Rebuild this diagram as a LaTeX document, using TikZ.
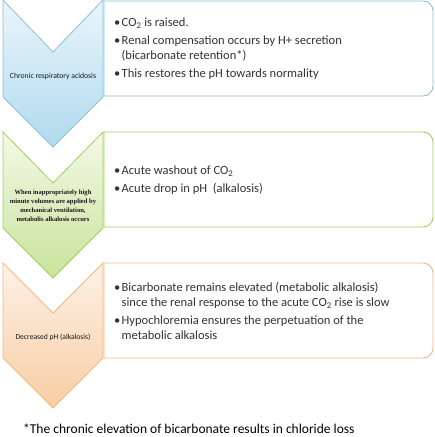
\documentclass[tikz,border=0pt]{standalone}
\usepackage{fontspec}
\setmainfont{Carlito}
\newfontfamily\cambria{Liberation Serif}
\usepackage{xcolor}
\usetikzlibrary{shapes,arrows,positioning,calc}

\definecolor{blueline}{HTML}{8CC0D8}
\definecolor{bluetop}{HTML}{EAF5FB}
\definecolor{bluebot}{HTML}{B0DAEE}
\definecolor{greenline}{HTML}{9FCF62}
\definecolor{greentop}{HTML}{F3F9E8}
\definecolor{greenbot}{HTML}{C9E39A}
\definecolor{orangeline}{HTML}{F5B883}
\definecolor{orangetop}{HTML}{FDF1E6}
\definecolor{orangebot}{HTML}{F8CDA3}

\newcommand{\bl}{\makebox[7.5pt][l]{\textbullet}}
\newcommand{\ind}{\makebox[7.5pt]{}}

\tikzset{
    boxline/.style={line width=0.9pt, fill=white, rounded corners=10pt},
    chevtext/.style={align=center, text=black!90, inner sep=0pt},
    bullets/.style={align=left, anchor=west, inner sep=0pt, font=\fontsize{12.5}{15.5}\selectfont, text=black!80}
}

\begin{document}
\begin{tikzpicture}[x=1pt,y=1pt]
    \useasboundingbox (0,0) rectangle (435,-437);

    % Boxes
    \draw[boxline, draw=blueline] (104,-1) -- (433,-1) -- (433,-96) [sharp corners] -- (104,-96) -- cycle;
    \draw[boxline, draw=greenline] (104,-132) -- (433,-132) -- (433,-227) [sharp corners] -- (104,-227) -- cycle;
    \draw[boxline, draw=orangeline] (104,-263) -- (433,-263) -- (433,-358) [sharp corners] -- (104,-358) -- cycle;

    % Chevrons
    \draw[draw=blueline, line width=0.8pt, top color=bluetop, bottom color=bluebot]
        (3,0) -- (53,-52) -- (103,0) -- (103,-97) -- (53,-147) -- (3,-97) -- cycle;
    \draw[draw=greenline, line width=0.8pt, top color=greentop, bottom color=greenbot]
        (3,-132) -- (53,-183) -- (103,-132) -- (103,-228) -- (53,-278) -- (3,-228) -- cycle;
    \draw[draw=orangeline, line width=0.8pt, top color=orangetop, bottom color=orangebot]
        (3,-263) -- (53,-313) -- (103,-263) -- (103,-358) -- (53,-408) -- (3,-358) -- cycle;

    % Chevron labels
    \node[chevtext, font=\fontsize{7.7}{9}\selectfont] (acidosis) at (53,-76) {Chronic respiratory acidosis};
    \node[chevtext, font=\cambria\bfseries\fontsize{6.6}{9}\selectfont] (ventilation) at (53,-206)
        {When inappropriately high\\minute volumes are applied by\\mechanical ventilation,\\metabolis alkalosis occurs};
    \node[chevtext, font=\fontsize{7.6}{9}\selectfont] (decreased) at (53,-337) {Decreased pH (alkalosis)};

    % Box texts
    \node[bullets] (raised) at (114,-48.5)
        {\bl CO\textsubscript{2} is raised.\\[2pt]
         \bl Renal compensation occurs by H+ secretion\\
         \ind (bicarbonate retention*)\\[2pt]
         \bl This restores the pH towards normality};
    \node[bullets] (washout) at (114,-180)
        {\bl Acute washout of CO\textsubscript{2}\\[2pt]
         \bl Acute drop in pH~ (alkalosis)};
    \node[bullets] (elevated) at (114,-311)
        {\bl Bicarbonate remains elevated (metabolic alkalosis)\\
         \ind since the renal response to the acute CO\textsubscript{2} rise is slow\\[2pt]
         \bl Hypochloremia ensures the perpetuation of the\\
         \ind metabolic alkalosis};

    % Footnote
    \node[anchor=west, inner sep=0pt, font=\fontsize{13.5}{16}\selectfont] (footnote) at (23,-429)
        {*The chronic elevation of bicarbonate results in chloride loss};
\end{tikzpicture}
\end{document}
